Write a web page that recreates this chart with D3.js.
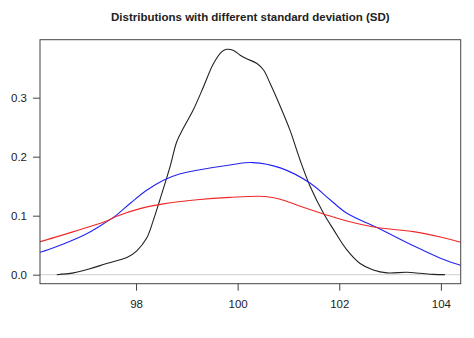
<!DOCTYPE html>
<html>
<head>
<meta charset="utf-8">
<script src="https://cdn.jsdelivr.net/npm/d3@7"></script>
<style>
  html, body { margin: 0; padding: 0; background: #fff; }
  svg { display: block; }
  text { font-family: "Liberation Sans", Arial, sans-serif; fill: #222; }
</style>
</head>
<body>
<svg id="chart" width="474" height="338"></svg>
<script>
const title = "Distributions with different standard deviation (SD)";
const xTicks = [98, 100, 102, 104];
const yTicks = [0.0, 0.1, 0.2, 0.3];

// SD small (black)
const blackX = [96.44, 96.77, 97.09, 97.42, 97.82, 98.01, 98.21, 98.34, 98.47, 98.67, 98.80, 98.93, 99.13, 99.33, 99.52, 99.69, 99.79, 99.92, 100.05, 100.18, 100.38, 100.51, 100.64, 100.84, 101.03, 101.23, 101.43, 101.69, 101.89, 102.15, 102.41, 102.67, 102.94, 103.33, 103.59, 103.85, 104.08];
const blackY = [0.000, 0.003, 0.010, 0.019, 0.029, 0.040, 0.062, 0.092, 0.127, 0.183, 0.225, 0.248, 0.280, 0.319, 0.357, 0.378, 0.382, 0.380, 0.372, 0.366, 0.358, 0.347, 0.324, 0.285, 0.245, 0.194, 0.149, 0.104, 0.076, 0.042, 0.019, 0.008, 0.003, 0.004, 0.0024, 0.0005, 0.000];

// SD medium (blue)
const blueX = [96.0, 96.11, 96.57, 97.0, 97.3, 97.6, 97.9, 98.21, 98.54, 98.87, 99.20, 99.85, 100.30, 100.84, 101.43, 101.82, 102.15, 102.74, 103.46, 103.99, 104.39, 104.5];
const blueY = [0.036, 0.038, 0.052, 0.068, 0.083, 0.100, 0.122, 0.143, 0.160, 0.171, 0.177, 0.186, 0.190, 0.181, 0.155, 0.127, 0.104, 0.080, 0.049, 0.028, 0.016, 0.014];

// SD large (red)
const redX = [96.0, 96.11, 96.77, 97.42, 97.62, 98.08, 98.54, 99.20, 99.85, 100.54, 100.84, 101.23, 101.69, 102.15, 102.74, 103.46, 103.99, 104.39, 104.5];
const redY = [0.054, 0.056, 0.073, 0.091, 0.099, 0.112, 0.120, 0.127, 0.131, 0.1325, 0.128, 0.116, 0.103, 0.091, 0.080, 0.073, 0.064, 0.055, 0.052];

const series = [
  { name: "black", xs: blackX, ys: blackY, color: "#222222" },
  { name: "blue",  xs: blueX,  ys: blueY,  color: "#2424f2" },
  { name: "red",   xs: redX,   ys: redY,   color: "#f02828" }
];

const svg = d3.select("#chart");
const pL = 40, pR = 460.7, pT = 39.7, pB = 283.7;

const x = d3.scaleLinear().domain([96.11, 104.39]).range([pL, pR]);
const y = d3.scaleLinear().domain([-0.0153, 0.3983]).range([pB, pT]);

svg.append("defs").append("clipPath").attr("id", "plotclip")
  .append("rect").attr("x", pL).attr("y", pT)
  .attr("width", pR - pL).attr("height", pB - pT);

// title
svg.append("text")
  .attr("x", (pL + pR) / 2).attr("y", 21)
  .attr("text-anchor", "middle")
  .style("font-size", "11.5px").style("font-weight", "bold")
  .text(title);

// zero reference line
svg.append("line")
  .attr("x1", pL).attr("x2", pR)
  .attr("y1", y(0)).attr("y2", y(0))
  .attr("stroke", "#d0d0d0").attr("stroke-width", 1)
  .attr("clip-path", "url(#plotclip)");

// curves
const g = svg.append("g").attr("clip-path", "url(#plotclip)");
series.forEach(s => {
  const pts = s.xs.map((v, i) => [v, s.ys[i]]);
  const line = d3.line().x(d => x(d[0])).y(d => y(d[1])).curve(d3.curveCatmullRom.alpha(0.5));
  g.append("path").datum(pts)
    .attr("d", line)
    .attr("fill", "none")
    .attr("stroke", s.color)
    .attr("stroke-width", 1.1);
});

// axes
const xAxis = d3.axisBottom(x).tickValues(xTicks).tickSize(7).tickPadding(9).tickSizeOuter(0)
  .tickFormat(d3.format("d"));
const gx = svg.append("g").attr("transform", `translate(0,${pB})`).call(xAxis);
gx.select(".domain").remove();
gx.selectAll("line").attr("stroke", "#444");
gx.selectAll("text").style("font-size", "11.5px").attr("fill", "#222").style("font-family", '"Liberation Sans", Arial, sans-serif');

const yAxis = d3.axisLeft(y).tickValues(yTicks).tickSize(7).tickPadding(6).tickSizeOuter(0)
  .tickFormat(d3.format(".1f"));
const gy = svg.append("g").attr("transform", `translate(${pL},0)`).call(yAxis);
gy.select(".domain").remove();
gy.selectAll("line").attr("stroke", "#444");
gy.selectAll("text").style("font-size", "11.5px").attr("fill", "#222").style("font-family", '"Liberation Sans", Arial, sans-serif');

// box
svg.append("rect")
  .attr("x", pL).attr("y", pT)
  .attr("width", pR - pL).attr("height", pB - pT)
  .attr("fill", "none").attr("stroke", "#444").attr("stroke-width", 1);
</script>
</body>
</html>
